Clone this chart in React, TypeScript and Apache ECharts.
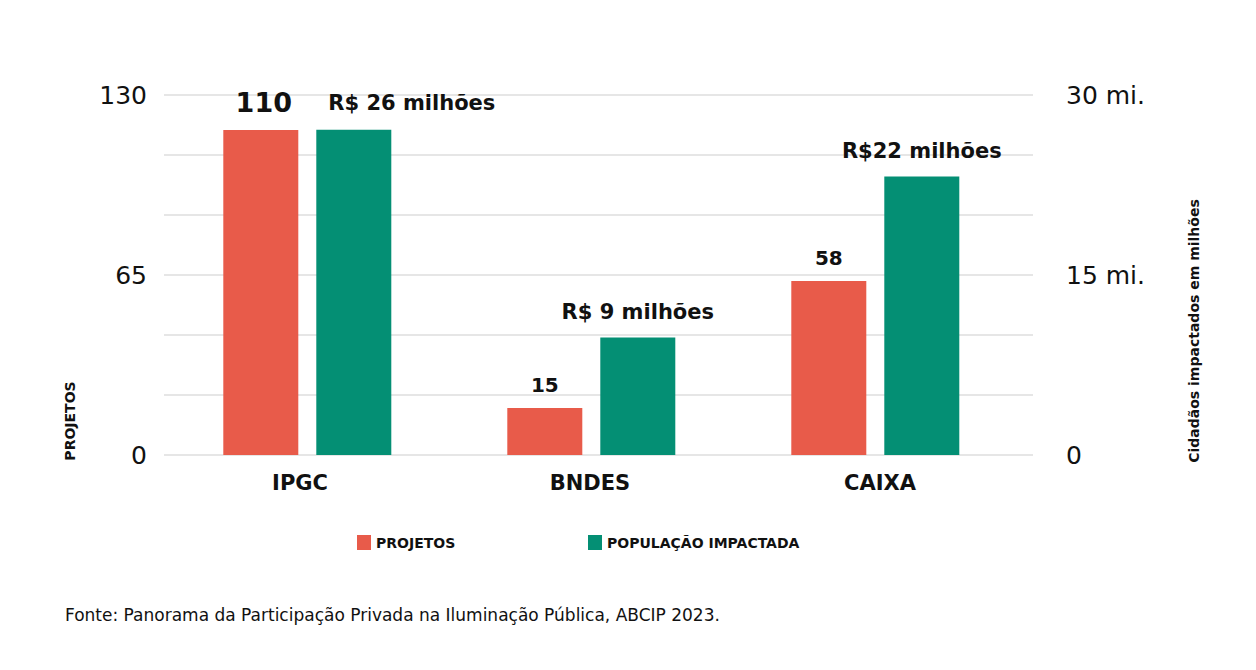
import React, { useEffect, useRef } from "react";
import * as echarts from "echarts";

const categories = ["IPGC", "BNDES", "CAIXA"];
// bar heights as drawn in the picture
const projetos = [117.4, 17.0, 62.8];
const populacao = [27.1, 9.8, 23.2];
// printed value labels
const projetosLabels = ["110", "15", "58"];
const populacaoLabels = ["R$ 26 milhões", "R$ 9 milhões", "R$22 milhões"];
const seriesNames = ["PROJETOS", "POPULAÇÃO IMPACTADA"];
const leftMax = 130;
const rightMax = 30;
const sourceText = "Fonte: Panorama da Participação Privada na Iluminação Pública, ABCIP 2023.";

const RED = "#E85B4A";
const GREEN = "#048F74";
const FONT = "'DejaVu Sans', sans-serif";
const TEXT = "#111111";

export default function App() {
  const ref = useRef<HTMLDivElement>(null);
  useEffect(() => {
    document.body.style.margin = "0";
    if (!ref.current) return;
    const chart = echarts.init(ref.current, null, { renderer: "svg" });
    const legendBase = {
      top: 535,
      padding: 0,
      itemWidth: 14,
      itemHeight: 15,
      icon: "rect",
      textStyle: { fontFamily: FONT, fontWeight: "bold", fontSize: 14, color: TEXT },
    };
    const option: any = {
      animation: false,
      backgroundColor: "#ffffff",
      textStyle: { fontFamily: FONT },
      grid: [
        { left: 164, right: 223, top: 95, bottom: 215 },
        { left: 155, right: 231, top: 95, bottom: 215 },
        { left: 165.3, right: 238.7, top: 95, bottom: 215 },
      ],
      legend: [
        { ...legendBase, data: [seriesNames[0]], left: 357 },
        { ...legendBase, data: [seriesNames[1]], left: 588 },
      ],
      xAxis: [
        { gridIndex: 0, type: "category", data: categories, show: false },
        {
          gridIndex: 1,
          type: "category",
          data: categories,
          axisLine: { show: false },
          axisTick: { show: false },
          axisLabel: { fontFamily: FONT, fontWeight: "bold", fontSize: 21, color: TEXT, margin: 17 },
        },
        { gridIndex: 2, type: "category", data: categories, show: false },
      ],
      yAxis: [
        {
          gridIndex: 0,
          type: "value",
          position: "left",
          min: 0,
          max: leftMax,
          interval: 65,
          splitLine: { show: false },
          axisLine: { show: false },
          axisTick: { show: false },
          axisLabel: { fontFamily: FONT, fontSize: 25, color: TEXT, margin: 17 },
        },
        {
          gridIndex: 0,
          type: "value",
          position: "right",
          min: 0,
          max: rightMax,
          interval: 5,
          splitLine: { show: true, lineStyle: { color: "#e6e6e6", width: 2 } },
          axisLine: { show: false },
          axisTick: { show: false },
          axisLabel: {
            fontFamily: FONT,
            fontSize: 25,
            color: TEXT,
            margin: 33,
            formatter: (v: number) => (v === 0 ? "0" : v % 15 === 0 ? v + " mi." : ""),
          },
        },
        { gridIndex: 1, type: "value", show: false, min: 0, max: 1 },
        { gridIndex: 2, type: "value", show: false, min: 0, max: leftMax },
        { gridIndex: 2, type: "value", show: false, min: 0, max: rightMax },
      ],
      series: [
        {
          name: seriesNames[0],
          type: "bar",
          xAxisIndex: 2,
          yAxisIndex: 3,
          barWidth: 75,
          barGap: "24%",
          itemStyle: { color: RED },
          data: projetos.map((v, i) => ({
            value: v,
            label: i === 0 ? { fontSize: 27, distance: 14, offset: [3, 0] } : {},
          })),
          label: {
            show: true,
            position: "top",
            distance: 13,
            fontFamily: FONT,
            fontWeight: "bold",
            fontSize: 20,
            color: TEXT,
            formatter: (p: any) => projetosLabels[p.dataIndex],
          },
        },
        {
          name: seriesNames[1],
          type: "bar",
          xAxisIndex: 2,
          yAxisIndex: 4,
          barWidth: 75,
          barGap: "24%",
          itemStyle: { color: GREEN },
          data: populacao.map((v, i) => ({
            value: v,
            label: i === 0 ? { offset: [58, -1] } : {},
          })),
          label: {
            show: true,
            position: "top",
            distance: 15,
            fontFamily: FONT,
            fontWeight: "bold",
            fontSize: 21,
            color: TEXT,
            formatter: (p: any) => populacaoLabels[p.dataIndex],
          },
        },
      ],
      graphic: [
        {
          type: "text",
          x: 70,
          y: 421,
          rotation: Math.PI / 2,
          style: {
            text: "PROJETOS",
            fontFamily: FONT,
            fontWeight: "bold",
            fontSize: 14,
            fill: TEXT,
            align: "center",
            verticalAlign: "middle",
          },
        },
        {
          type: "text",
          x: 1194,
          y: 331,
          rotation: Math.PI / 2,
          style: {
            text: "Cidadãos impactados em milhões",
            fontFamily: FONT,
            fontWeight: "bold",
            fontSize: 14,
            fill: TEXT,
            align: "center",
            verticalAlign: "middle",
          },
        },
        {
          type: "text",
          x: 65,
          y: 615,
          style: {
            text: sourceText,
            fontFamily: FONT,
            fontSize: 17,
            fill: TEXT,
            align: "left",
            verticalAlign: "middle",
          },
        },
      ],
    };
    chart.setOption(option);
    return () => chart.dispose();
  }, []);
  return <div ref={ref} style={{ width: 1256, height: 670 }} />;
}
